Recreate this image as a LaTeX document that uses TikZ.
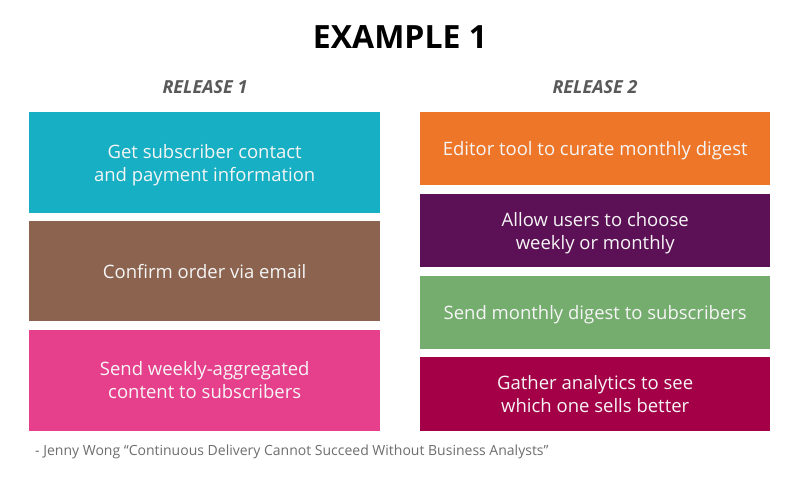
\documentclass[tikz,border=0pt]{standalone}
\usepackage{fontspec}
\setmainfont{Open Sans}
\definecolor{cyanbox}{HTML}{17AFC4}
\definecolor{brownbox}{HTML}{8B634F}
\definecolor{pinkbox}{HTML}{E6408D}
\definecolor{orangebox}{HTML}{EE7628}
\definecolor{purplebox}{HTML}{5C1156}
\definecolor{greenbox}{HTML}{74AD6E}
\definecolor{crimsonbox}{HTML}{A40047}
\definecolor{headgray}{HTML}{595959}
\definecolor{notegray}{HTML}{6E6E6E}
\begin{document}
\begin{tikzpicture}[x=1pt,y=-1pt,
  card/.style={minimum height=#1, text=white!92!gray, align=center,
    font=\fontsize{18.5}{23}\selectfont, inner sep=0pt, text depth=0pt, anchor=north west},
  leftcard/.style={card=#1, minimum width=351},
  rightcard/.style={card=#1, minimum width=350},
  head/.style={font=\fontsize{18}{20}\selectfont\bfseries\itshape, text=headgray}]
\useasboundingbox[fill=white] (0,0) rectangle (800,480);
\node[font=\fontsize{32}{36}\selectfont\bfseries] (title) at (400,37) {EXAMPLE 1};
\node[head] (r1) at (205,87) {RELEASE 1};
\node[head] (r2) at (595,87) {RELEASE 2};
\node[leftcard=101, fill=cyanbox] (a1) at (29,112) {Get subscriber contact\\and payment information};
\node[leftcard=100, fill=brownbox] (a2) at (29,221) {Confirm order via email};
\node[leftcard=101, fill=pinkbox] (a3) at (29,329.5) {Send weekly-aggregated\\content to subscribers};
\node[rightcard=73, fill=orangebox] (b1) at (420,112) {Editor tool to curate monthly digest};
\node[rightcard=73, fill=purplebox] (b2) at (420,194) {Allow users to choose\\weekly or monthly};
\node[rightcard=73, fill=greenbox] (b3) at (420,275.5) {Send monthly digest to subscribers};
\node[rightcard=73.5, fill=crimsonbox] (b4) at (420,357) {Gather analytics to see\\which one sells better};
\node[anchor=west, font=\fontsize{14}{16}\selectfont, text=notegray, inner sep=0pt] (note) at (35,452)
  {- Jenny Wong “Continuous Delivery Cannot Succeed Without Business Analysts”};
\end{tikzpicture}
\end{document}
